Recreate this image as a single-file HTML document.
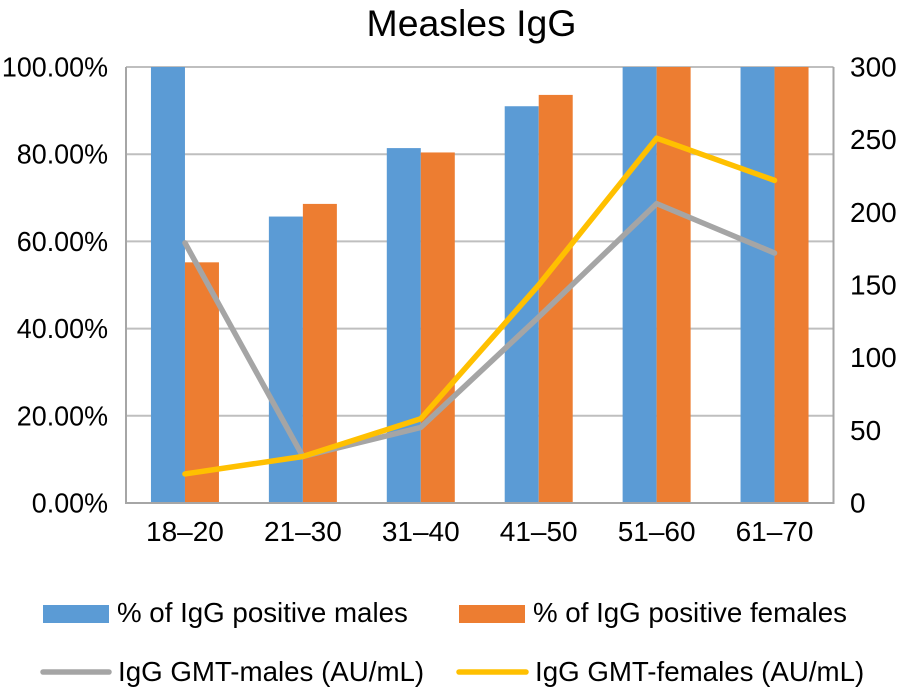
<!DOCTYPE html>
<html lang="en">
<head>
<meta charset="utf-8">
<title>Measles IgG</title>
<style>
html,body{margin:0;padding:0;background:#fff;width:904px;height:687px;overflow:hidden}
svg{display:block}
text{font-family:"Liberation Sans",sans-serif;fill:#000}
</style>
</head>
<body>
<svg id="chart" width="904" height="687" viewBox="0 0 904 687" xmlns="http://www.w3.org/2000/svg">
  <rect x="0" y="0" width="904" height="687" fill="#fff"/>
  <text x="471.5" y="36" font-size="37.4" text-anchor="middle">Measles IgG</text>
  <g id="grid"></g>
  <g id="bars"></g>
  <g id="axes"></g>
  <g id="lines"></g>
  <g id="ticks"></g>
  <g>
    <g>
      <rect x="43" y="605" width="66" height="18" fill="#5b9bd5"/>
      <text x="117" y="622" font-size="27.7">% of IgG positive males</text>
    </g>
    <g>
      <rect x="459" y="605" width="66" height="18" fill="#ed7d31"/>
      <text x="533" y="622" font-size="27.7">% of IgG positive females</text>
    </g>
    <g>
      <line x1="43" y1="672" x2="109" y2="672" stroke="#a5a5a5" stroke-width="5.5" stroke-linecap="round"/>
      <text x="118" y="681" font-size="27.7">IgG GMT-males (AU/mL)</text>
    </g>
    <g>
      <line x1="459" y1="672" x2="526" y2="672" stroke="#ffc000" stroke-width="5.5" stroke-linecap="round"/>
      <text x="535" y="681" font-size="27.7">IgG GMT-females (AU/mL)</text>
    </g>
  </g>
</svg>
<script>
const categories = ["18–20", "21–30", "31–40", "41–50", "51–60", "61–70"];
const malesPercent = [100, 65.7, 81.4, 91, 100, 100];
const femalesPercent = [55.2, 68.6, 80.4, 93.6, 100, 100];
const malesGmt = [179, 32, 52, 128, 206, 172];
const femalesGmt = [20, 32, 58, 150, 251, 222];
const leftTicks = [0, 20, 40, 60, 80, 100];
const rightTicks = [0, 50, 100, 150, 200, 250, 300];

const NS = "http://www.w3.org/2000/svg";
const plot = { left: 126, right: 833.5, top: 67, bottom: 503 };
const barWidth = 34;
const yLeft = v => plot.bottom - (v / 100) * (plot.bottom - plot.top);
const yRight = v => plot.bottom - (v / 300) * (plot.bottom - plot.top);
const xCenter = i => plot.left + (i + 0.5) * (plot.right - plot.left) / categories.length;

function make(tag, parentId, attrs) {
  const el = document.createElementNS(NS, tag);
  for (const k in attrs) el.setAttribute(k, attrs[k]);
  document.getElementById(parentId).appendChild(el);
  return el;
}

leftTicks.forEach(t => {
  if (t === 0) return;
  const g = make("line", "grid", { x1: plot.left, x2: plot.right, y1: yLeft(t), y2: yLeft(t), stroke: "#bfbfbf", "stroke-width": 2 });
  
  
});

categories.forEach((c, i) => {
  const cx = xCenter(i);
  const m = make("rect", "bars", { x: cx - barWidth, y: yLeft(malesPercent[i]), width: barWidth, height: plot.bottom - yLeft(malesPercent[i]), fill: "#5b9bd5" });
  
  
  const f = make("rect", "bars", { x: cx, y: yLeft(femalesPercent[i]), width: barWidth, height: plot.bottom - yLeft(femalesPercent[i]), fill: "#ed7d31" });
  
  
  const label = make("text", "ticks", { x: cx, y: 541, "font-size": 28, "text-anchor": "middle" });
  label.textContent = c;
  
  
});

const axisPath = make("path", "axes", {
  d: `M${plot.left} ${plot.top}V${plot.bottom}H${plot.right}V${plot.top}`,
  fill: "none", stroke: "#a6a6a6", "stroke-width": 2
});



const pointsFor = arr => arr.map((v, i) => `${xCenter(i)},${yRight(v)}`).join(" ");
const lineMales = make("polyline", "lines", { points: pointsFor(malesGmt), fill: "none", stroke: "#a5a5a5", "stroke-width": 5.5, "stroke-linecap": "round", "stroke-linejoin": "round" });


const lineFemales = make("polyline", "lines", { points: pointsFor(femalesGmt), fill: "none", stroke: "#ffc000", "stroke-width": 5.5, "stroke-linecap": "round", "stroke-linejoin": "round" });



leftTicks.forEach(t => {
  const el = make("text", "ticks", { x: 108, y: yLeft(t) + 9.5, "font-size": 28, "text-anchor": "end", class: "fit" });
  el.textContent = t.toFixed(2) + "%";
  
  
});
rightTicks.forEach(t => {
  const el = make("text", "ticks", { x: 850, y: yRight(t) + 9.5, "font-size": 28 });
  el.textContent = String(t);
  
  
});

document.querySelectorAll("text.fit").forEach(t => {
  const natural = t.getComputedTextLength();
  t.setAttribute("textLength", (natural * 0.96).toFixed(1));
  t.setAttribute("lengthAdjust", "spacingAndGlyphs");
});
</script>
</body>
</html>
